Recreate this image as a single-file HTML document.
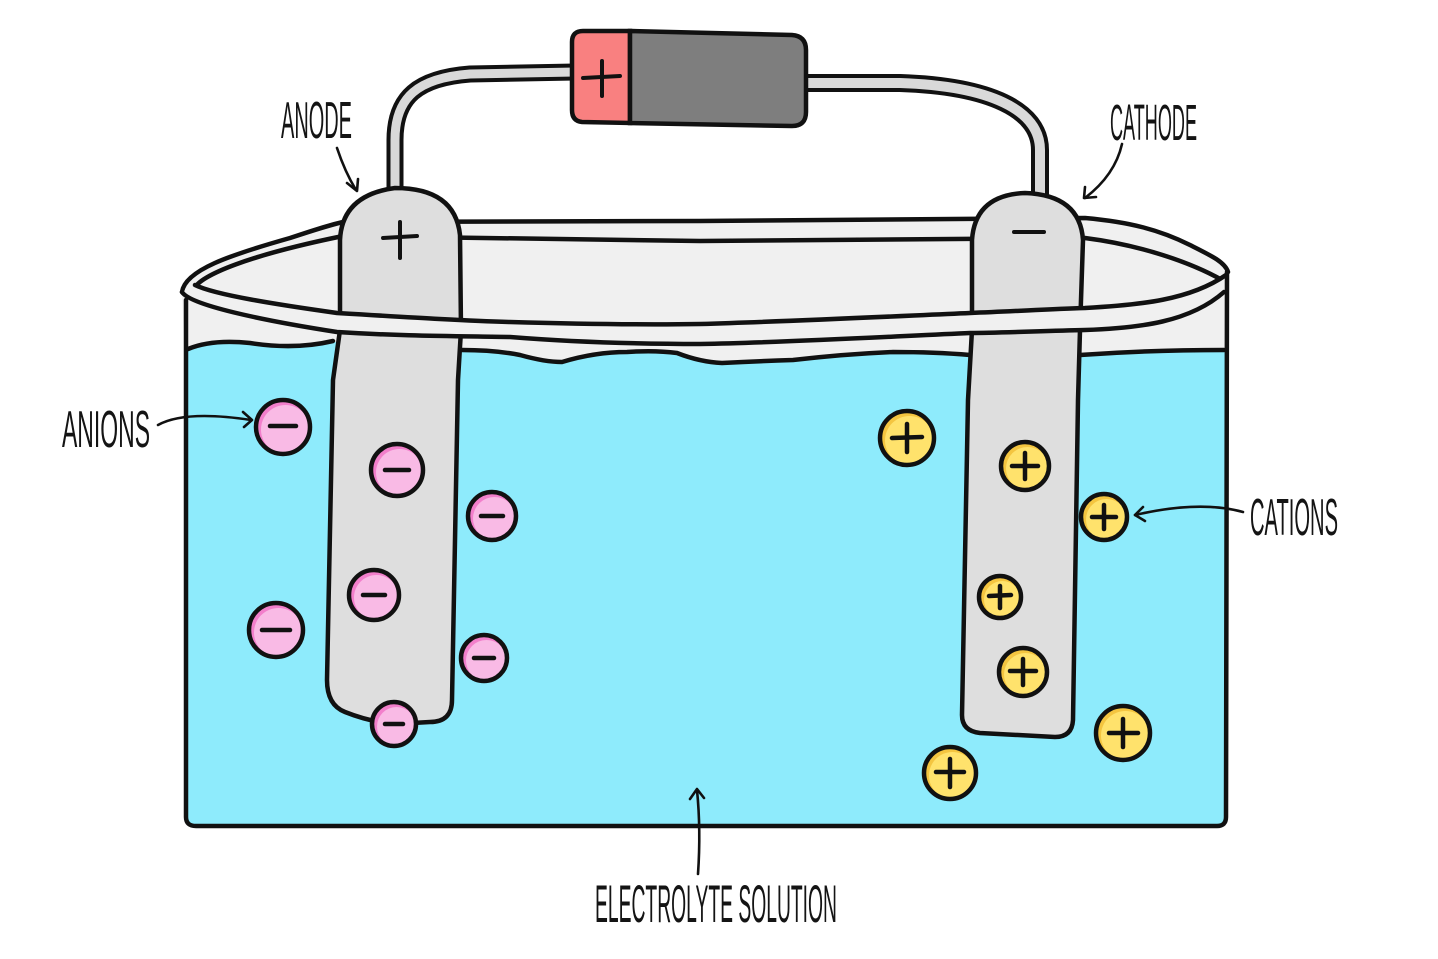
<!DOCTYPE html>
<html><head><meta charset="utf-8"><style>
html,body{margin:0;padding:0;background:#fff;}
svg{display:block;}
text{font-family:"Liberation Sans",sans-serif;fill:#141414;}
</style></head><body>
<svg width="1438" height="959" viewBox="0 0 1438 959" xmlns="http://www.w3.org/2000/svg">
<rect width="1438" height="959" fill="#fff"/>

<!-- light grey tank top / rim area -->
<path d="M182,292 C185,270 230,255 290,238 C320,228 330,225 343,222 L700,221 L1085,218 C1130,222 1160,230 1190,245 C1210,255 1225,262 1228,272 L1226,390 L186,390 Z" fill="#F0F0F0"/>

<!-- water -->
<path d="M186,348 Q212,338 250,343 Q295,350 335,342 L462,350 Q495,350 520,355 Q545,362 562,362 Q595,352 627,352 Q655,350 677,353 Q700,362 722,363 Q760,361 793,360 Q845,354 893,352 Q935,352 972,355 L1080,355 Q1150,350 1226,350 L1226,820 Q1226,826 1218,826 L195,826 Q186,826 186,817 Z" fill="#8EEBFC"/>

<!-- water wave lines -->
<g fill="none" stroke="#111" stroke-width="4.5" stroke-linecap="round">
<path d="M188,349 Q212,339 250,343 Q295,350 333,341"/>
<path d="M462,350 Q495,350 520,355 Q545,362 562,362 Q595,352 627,352 Q655,350 677,353 Q700,362 722,363 Q760,361 793,360 Q845,354 893,352 Q935,352 970,355"/>
<path d="M1080,355 Q1150,350 1224,350"/>
</g>

<!-- back rim lines -->
<g fill="none" stroke="#111" stroke-width="4.5" stroke-linecap="round">
<path d="M182,292 C185,270 230,255 290,238 C320,228 330,225 343,222 L700,221 L1085,218 C1130,222 1160,230 1190,245 C1210,255 1225,262 1228,272"/>
<path d="M194,289 C200,275 250,255 343,236 L700,241 L1085,238 C1140,245 1190,262 1222,280"/>
</g>

<!-- wires -->
<g fill="none" stroke-linecap="butt">
<path d="M395,195 L395,140 C395,97 418,78 470,74 L575,72" stroke="#111" stroke-width="17"/>
<path d="M395,195 L395,140 C395,97 418,78 470,74 L575,72" stroke="#D9D9D9" stroke-width="9"/>
<path d="M800,83 L900,83 C990,86 1040,110 1040,150 L1040,198" stroke="#111" stroke-width="18"/>
<path d="M800,83 L900,83 C990,86 1040,110 1040,150 L1040,198" stroke="#D9D9D9" stroke-width="10"/>
</g>

<!-- battery -->
<path d="M583,31 L630,31 L630,123 L582,122 Q572,121 572,110 L572,42 Q572,31 583,31 Z" fill="#F98080" stroke="#111" stroke-width="4.5"/>
<path d="M630,31 L792,35 Q806,36 806,50 L806,112 Q806,126 792,126 L630,123 Z" fill="#7E7E7E" stroke="#111" stroke-width="4.5"/>
<g stroke="#111" stroke-width="4" stroke-linecap="round">
<line x1="583" y1="78" x2="620" y2="76"/>
<line x1="602" y1="61" x2="602" y2="96"/>
</g>

<!-- anode -->
<path d="M340,330 L340,240 Q342,195 395,188 Q455,188 460,235 L461,330 L458,380 L452,700 Q452,722 430,722 L395,724 Q370,722 345,712 Q327,705 327,680 L333,380 Z" fill="#DEDEDE" stroke="#111" stroke-width="4.5" stroke-linejoin="round"/>
<!-- cathode -->
<path d="M972,330 L972,240 Q975,195 1025,193 Q1080,195 1083,240 L1080,330 L1078,400 L1073,720 Q1072,737 1055,737 L980,733 Q962,731 962,715 L968,400 Z" fill="#DEDEDE" stroke="#111" stroke-width="4.5" stroke-linejoin="round"/>

<g stroke="#111" stroke-width="4" stroke-linecap="round">
<line x1="383" y1="238" x2="417" y2="236"/>
<line x1="400" y1="222" x2="400" y2="258"/>
<line x1="1014" y1="232" x2="1044" y2="232"/>
</g>

<!-- front rim band -->
<path d="M195,285 C215,295 280,305 337,313 C420,318 470,321 510,322 C580,324 640,325 700,324 C800,321 900,316 970,313 C1020,311 1050,309 1085,308 C1140,305 1190,300 1226,275 L1226,290 C1190,322 1140,328 1085,330 C1040,331 1000,333 970,333 C900,336 800,342 700,344 C620,344 560,341 510,337 C450,336 400,336 337,332 C260,320 190,305 182,292 Z" fill="#F0F0F0"/>
<g fill="none" stroke="#111" stroke-width="4.5" stroke-linecap="round">
<path d="M195,285 C215,295 280,305 337,313 C420,318 470,321 510,322 C580,324 640,325 700,324 C800,321 900,316 970,313 C1020,311 1050,309 1085,308 C1140,305 1190,300 1226,275"/>
<path d="M182,292 C190,305 260,320 337,332 C400,336 450,336 510,337 C560,341 620,344 700,344 C800,342 900,336 970,333 C1000,333 1040,331 1085,330 C1140,328 1190,322 1224,292"/>
<!-- tank walls -->
<path d="M186,300 L186,817 Q186,826 196,826 L1217,826 Q1226,826 1226,817 L1227,272"/>
</g>

<!-- anions -->
<g>
<circle cx="283" cy="427" r="27" fill="#F27FCB"/><circle cx="285.5" cy="429.5" r="24.5" fill="#F9BAE5"/><circle cx="283" cy="427" r="27" fill="none" stroke="#111" stroke-width="4.5"/>
<circle cx="397" cy="470" r="26" fill="#F27FCB"/><circle cx="399.5" cy="472.5" r="23.5" fill="#F9BAE5"/><circle cx="397" cy="470" r="26" fill="none" stroke="#111" stroke-width="4.5"/>
<circle cx="492" cy="516" r="24" fill="#F27FCB"/><circle cx="494.5" cy="518.5" r="21.5" fill="#F9BAE5"/><circle cx="492" cy="516" r="24" fill="none" stroke="#111" stroke-width="4.5"/>
<circle cx="374" cy="595" r="25" fill="#F27FCB"/><circle cx="376.5" cy="597.5" r="22.5" fill="#F9BAE5"/><circle cx="374" cy="595" r="25" fill="none" stroke="#111" stroke-width="4.5"/>
<circle cx="276" cy="630" r="27" fill="#F27FCB"/><circle cx="278.5" cy="632.5" r="24.5" fill="#F9BAE5"/><circle cx="276" cy="630" r="27" fill="none" stroke="#111" stroke-width="4.5"/>
<circle cx="484" cy="658" r="23" fill="#F27FCB"/><circle cx="486.5" cy="660.5" r="20.5" fill="#F9BAE5"/><circle cx="484" cy="658" r="23" fill="none" stroke="#111" stroke-width="4.5"/>
<circle cx="394" cy="724" r="22" fill="#F27FCB"/><circle cx="396.5" cy="726.5" r="19.5" fill="#F9BAE5"/><circle cx="394" cy="724" r="22" fill="none" stroke="#111" stroke-width="4.5"/>
</g>
<g stroke="#111" stroke-width="4.5" stroke-linecap="round">
<line x1="270" y1="426" x2="296" y2="426"/>
<line x1="385" y1="470" x2="409" y2="470"/>
<line x1="481" y1="516" x2="503" y2="516"/>
<line x1="363" y1="595" x2="385" y2="595"/>
<line x1="262" y1="630" x2="290" y2="630"/>
<line x1="474" y1="658" x2="494" y2="658"/>
<line x1="385" y1="724" x2="403" y2="724"/>
</g>

<!-- cations -->
<g>
<circle cx="907" cy="438" r="27" fill="#F4C540"/><circle cx="909.5" cy="440.5" r="24.5" fill="#FFE26C"/><circle cx="907" cy="438" r="27" fill="none" stroke="#111" stroke-width="4.5"/>
<circle cx="1025" cy="466" r="24" fill="#F4C540"/><circle cx="1027.5" cy="468.5" r="21.5" fill="#FFE26C"/><circle cx="1025" cy="466" r="24" fill="none" stroke="#111" stroke-width="4.5"/>
<circle cx="1104" cy="517" r="23" fill="#F4C540"/><circle cx="1106.5" cy="519.5" r="20.5" fill="#FFE26C"/><circle cx="1104" cy="517" r="23" fill="none" stroke="#111" stroke-width="4.5"/>
<circle cx="1000" cy="597" r="21" fill="#F4C540"/><circle cx="1002.5" cy="599.5" r="18.5" fill="#FFE26C"/><circle cx="1000" cy="597" r="21" fill="none" stroke="#111" stroke-width="4.5"/>
<circle cx="1023" cy="672" r="24" fill="#F4C540"/><circle cx="1025.5" cy="674.5" r="21.5" fill="#FFE26C"/><circle cx="1023" cy="672" r="24" fill="none" stroke="#111" stroke-width="4.5"/>
<circle cx="1123" cy="733" r="27" fill="#F4C540"/><circle cx="1125.5" cy="735.5" r="24.5" fill="#FFE26C"/><circle cx="1123" cy="733" r="27" fill="none" stroke="#111" stroke-width="4.5"/>
<circle cx="950" cy="773" r="26" fill="#F4C540"/><circle cx="952.5" cy="775.5" r="23.5" fill="#FFE26C"/><circle cx="950" cy="773" r="26" fill="none" stroke="#111" stroke-width="4.5"/>
</g>
<g stroke="#111" stroke-width="4.5" stroke-linecap="round">
<line x1="892" y1="438" x2="922" y2="437"/><line x1="907" y1="424" x2="907" y2="452"/>
<line x1="1012" y1="466" x2="1038" y2="466"/><line x1="1025" y1="453" x2="1025" y2="479"/>
<line x1="1092" y1="517" x2="1116" y2="517"/><line x1="1104" y1="505" x2="1104" y2="529"/>
<line x1="989" y1="596" x2="1011" y2="595"/><line x1="1000" y1="586" x2="1000" y2="608"/>
<line x1="1010" y1="671" x2="1036" y2="671"/><line x1="1023" y1="659" x2="1023" y2="685"/>
<line x1="1109" y1="733" x2="1138" y2="733"/><line x1="1123" y1="719" x2="1123" y2="747"/>
<line x1="936" y1="772" x2="964" y2="772"/><line x1="950" y1="759" x2="950" y2="787"/>
</g>

<!-- label arrows -->
<g fill="none" stroke="#111" stroke-width="2.6" stroke-linecap="round" stroke-linejoin="round">
<path d="M337,148 Q345,172 356,190"/><path d="M347,183 L357,191 L358,179"/>
<path d="M1122,144 Q1115,175 1085,198"/><path d="M1085,187 L1084,198 L1096,197"/>
<path d="M158,425 Q185,410 251,420"/><path d="M243,412 L252,420 L244,427"/>
<path d="M1243,512 Q1200,500 1135,515"/><path d="M1143,507 L1135,515 L1145,521"/>
<path d="M698,874 Q701,830 697,790"/><path d="M690,799 L697,789 L704,798"/>
</g>

<!-- labels -->
<text x="281" y="138" font-size="52" textLength="71" lengthAdjust="spacingAndGlyphs">ANODE</text>
<text x="1110" y="140" font-size="51" textLength="87" lengthAdjust="spacingAndGlyphs">CATHODE</text>
<text x="62" y="447" font-size="52" textLength="88" lengthAdjust="spacingAndGlyphs">ANIONS</text>
<text x="1250" y="535" font-size="52" textLength="88" lengthAdjust="spacingAndGlyphs">CATIONS</text>
<text x="595" y="922" font-size="53" textLength="242" lengthAdjust="spacingAndGlyphs">ELECTROLYTE SOLUTION</text>
</svg>
</body></html>
